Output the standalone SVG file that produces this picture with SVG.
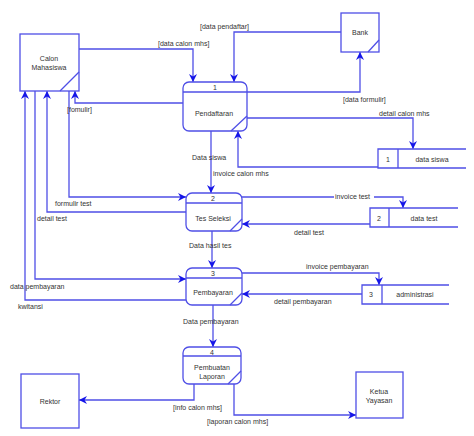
<svg xmlns="http://www.w3.org/2000/svg" width="474" height="436" viewBox="0 0 474 436">
<defs>
<marker id="arr" markerUnits="userSpaceOnUse" markerWidth="9" markerHeight="8" refX="8" refY="4" orient="auto">
<path d="M0,0 L8,4 L0,8 L2.5,4 z" fill="#1515e8"/>
</marker>
</defs>
<style>
.b{fill:#fff;stroke:#4f4fe6;stroke-width:1.3}
.ln{fill:none;stroke:#4f4fe6;stroke-width:1.3}
.c{fill:none;stroke:#4f4fe6;stroke-width:1.3;marker-end:url(#arr)}
text{font-family:"Liberation Sans",Arial,sans-serif;font-size:7px;fill:#333}
.m{text-anchor:middle}
</style>
<rect width="474" height="436" fill="#fff"/>
<g id="connectors">
<polyline class="c" points="79,49 193,49 193,82"/>
<polyline class="c" points="341,32 234,32 234,82"/>
<polyline class="c" points="183,103 75,103 75,91"/>
<polyline class="c" points="247,92 360,92 360,52"/>
<polyline class="c" points="247,118 413,118 413,149"/>
<polyline class="c" points="378,167 238,167 238,131"/>
<polyline class="c" points="211,131 211,193"/>
<polyline class="c" points="69,91 69,197 186,197"/>
<polyline class="c" points="186,212 47,212 47,91"/>
<polyline class="c" points="242,197 403,197 403,208"/>
<polyline class="c" points="370,224 242,224"/>
<polyline class="c" points="212,231 212,268"/>
<polyline class="c" points="35,91 35,279 186,279"/>
<polyline class="c" points="186,300 25,300 25,91"/>
<polyline class="c" points="242,273 379,273 379,285"/>
<polyline class="c" points="362,294 242,294"/>
<polyline class="c" points="213,305 213,347"/>
<polyline class="c" points="194,384 194,400 79,400"/>
<polyline class="c" points="234,384 234,415 356,415"/>
<text x="158" y="45.5">[data calon mhs]</text>
<text x="200" y="28.5">[data pendaftar]</text>
<text x="67" y="111.5">[fomulir]</text>
<text x="343" y="101.5">[data formulir]</text>
<text x="379" y="115.5">detail calon mhs</text>
<text x="192" y="159.5">Data siswa</text>
<text x="213" y="175.5">invoice calon mhs</text>
<text x="55" y="205.5">formulir test</text>
<text x="37" y="220.5">detail test</text>
<rect x="334" y="193" width="40" height="7" fill="#fff"/>
<text x="335" y="199">invoice test</text>
<text x="294" y="234.5">detail test</text>
<text x="189" y="247.5">Data hasil tes</text>
<text x="306" y="268.5">invoice pembayaran</text>
<text x="10" y="288.5">data pembayaran</text>
<text x="18" y="308.5">kwitansi</text>
<text x="274" y="303.5">detail pembayaran</text>
<text x="183" y="323.5">Data pembayaran</text>
<text x="173" y="409.5">[info calon mhs]</text>
<text x="207" y="423.5">[laporan calon mhs]</text>
</g>
<g id="calon-mahasiswa">
<rect class="b" x="20" y="34" width="59" height="57"/>
<line class="ln" x1="60" y1="91" x2="79" y2="72"/>
<text class="m" x="49" y="60.5">Calon</text>
<text class="m" x="49" y="70">Mahasiswa</text>
</g>
<g id="bank">
<rect class="b" x="341" y="13" width="38" height="39"/>
<line class="ln" x1="368" y1="52" x2="379" y2="40"/>
<text class="m" x="360" y="34.5">Bank</text>
</g>
<g id="rektor">
<rect class="b" x="21" y="374" width="58" height="54"/>
<text class="m" x="50" y="403.5">Rektor</text>
</g>
<g id="ketua-yayasan">
<rect class="b" x="356" y="372" width="47" height="46"/>
<text class="m" x="379" y="393.5">Ketua</text>
<text class="m" x="379" y="403">Yayasan</text>
</g>
<g id="p1">
<rect class="b" x="183" y="82" width="64" height="49" rx="6"/>
<line class="ln" x1="183" y1="92" x2="247" y2="92"/>
<line class="ln" x1="231" y1="131" x2="247" y2="116"/>
<text class="m" x="215" y="89.5">1</text>
<text class="m" x="214" y="115.5">Pendaftaran</text>
</g>
<g id="p2">
<rect class="b" x="186" y="193" width="56" height="38" rx="6"/>
<line class="ln" x1="186" y1="203" x2="242" y2="203"/>
<line class="ln" x1="230" y1="231" x2="242" y2="219"/>
<text class="m" x="213" y="200.5">2</text>
<text class="m" x="213" y="220.5">Tes Seleksi</text>
</g>
<g id="p3">
<rect class="b" x="186" y="268" width="56" height="37" rx="6"/>
<line class="ln" x1="186" y1="278" x2="242" y2="278"/>
<line class="ln" x1="230" y1="305" x2="242" y2="293"/>
<text class="m" x="213" y="275.5">3</text>
<text class="m" x="213" y="294.5">Pembayaran</text>
</g>
<g id="p4">
<rect class="b" x="183" y="347" width="58" height="37" rx="6"/>
<line class="ln" x1="183" y1="356" x2="241" y2="356"/>
<line class="ln" x1="228" y1="384" x2="241" y2="371"/>
<text class="m" x="212" y="354.5">4</text>
<text class="m" x="212" y="369.5">Pembuatan</text>
<text class="m" x="212" y="379">Laporan</text>
</g>
<g id="ds1">
<path class="ln" d="M466,149 H378 V168 H466 M398,149 V168"/>
<text class="m" x="388" y="161.5">1</text>
<text class="m" x="432" y="161.5">data siswa</text>
</g>
<g id="ds2">
<path class="ln" d="M458,208 H370 V227 H458 M389,208 V227"/>
<text class="m" x="379" y="220.5">2</text>
<text class="m" x="424" y="220.5">data test</text>
</g>
<g id="ds3">
<path class="ln" d="M449,285 H362 V304 H449 M382,285 V304"/>
<text class="m" x="371" y="296.5">3</text>
<text class="m" x="415" y="296.5">administrasi</text>
</g>
</svg>
